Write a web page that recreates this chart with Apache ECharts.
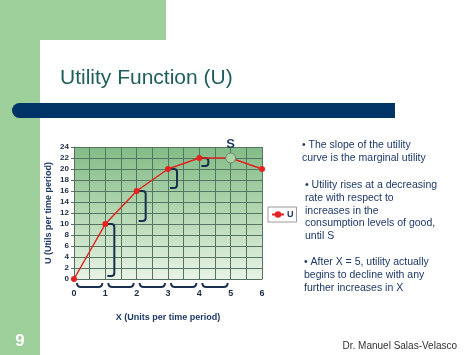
<!DOCTYPE html>
<html lang="en">
<head>
<meta charset="UTF-8">
<title>Utility Function (U)</title>
<script src="https://cdn.jsdelivr.net/npm/echarts@6/dist/echarts.min.js"></script>
<style>
  html, body { margin: 0; padding: 0; background: #fff; }
  #main { width: 474px; height: 355px; }
</style>
</head>
<body>
<div id="main"></div>
<script>
// data
var xUnits = [0, 1, 2, 3, 4, 5, 6];
var utility = [0, 10, 16, 20, 22, 22, 20];
var satiationX = 5;            // point S
var yTicks = { min: 0, max: 24, step: 2 };
var xTicks = { min: 0, max: 6, step: 1 };

var bullets = [
    '• The slope of the utility\ncurve is the marginal utility',
    '• Utility rises at a decreasing\nrate with respect to\nincreases in the\nconsumption levels of good,\nuntil S',
    '• After X = 5, utility actually\nbegins to decline with any\nfurther increases in X'
];

var navy = '#1c3867';
var font = '"Liberation Sans", Arial, sans-serif';
var narrow = '"Liberation Sans Narrow", "Liberation Sans", Arial, sans-serif';

// points for the line; S is drawn as a hollow circle
var linePoints = xUnits.map(function (x, i) {
    var p = { value: [x, utility[i]] };
    if (x === satiationX) {
        p.symbolSize = 10;
        p.itemStyle = { color: '#a9d3a3', borderColor: '#6f7f74', borderWidth: 1 };
        p.label = { show: true, formatter: 'S', position: 'top', distance: 2,
            fontSize: 13, fontWeight: 'bold', color: '#1f3a5a', fontFamily: font };
    }
    return p;
});

// vertical braces: rise from previous point to this one (until S)
var riseBraces = [];
// horizontal braces: one unit step in X
var stepBraces = [];
for (var i = 1; i < xUnits.length && xUnits[i] <= satiationX; i++) {
    if (utility[i] > utility[i - 1]) riseBraces.push([xUnits[i], utility[i - 1], utility[i]]);
    stepBraces.push([xUnits[i - 1], xUnits[i]]);
}

var braceStyle = { stroke: '#1a2f4e', lineWidth: 2, fill: null };

var myChart = echarts.init(document.getElementById('main'));
var option = {
    animation: false,
    grid: {
        left: 74, right: 212, top: 147, bottom: 76,
        show: true, borderWidth: 0,
        backgroundColor: new echarts.graphic.LinearGradient(0, 0, 0, 1, [
            { offset: 0, color: '#82bc87' },
            { offset: 0.5, color: '#b4d7b2' },
            { offset: 1, color: '#e8f3e5' }
        ])
    },
    legend: {
        left: 268, top: 207,
        padding: [3, 3, 3, 3],
        borderColor: '#9a9a9a', borderWidth: 1,
        itemWidth: 12, itemHeight: 8, itemGap: 2,
        textStyle: { fontSize: 9, fontWeight: 'bold', color: navy, fontFamily: narrow, padding: [0, 0, 0, -2] },
        data: ['U']
    },
    xAxis: {
        type: 'value', min: xTicks.min, max: xTicks.max, interval: xTicks.step,
        name: 'X (Units per time period)', nameLocation: 'middle', nameGap: 34,
        nameTextStyle: { fontSize: 9, fontWeight: 'bold', color: navy, fontFamily: narrow },
        axisLine: { show: true, lineStyle: { color: '#55705f' } },
        axisTick: { show: false },
        axisLabel: { margin: 10, fontSize: 9, fontWeight: 'bold', color: '#1a2a40', fontFamily: narrow },
        splitLine: { show: true, lineStyle: { color: '#557563', width: 1 } },
        minorTick: { show: false, splitNumber: 2 },
        minorSplitLine: { show: true, lineStyle: { color: '#557563', width: 1 } }
    },
    yAxis: {
        type: 'value', min: yTicks.min, max: yTicks.max, interval: yTicks.step,
        name: 'U (Utils per time period)', nameLocation: 'middle', nameGap: 21,
        nameTextStyle: { fontSize: 9, fontWeight: 'bold', color: navy, fontFamily: narrow },
        axisLine: { show: true, lineStyle: { color: '#55705f' } },
        axisTick: { show: true, length: 3, lineStyle: { color: '#55705f' } },
        axisLabel: { margin: 5, fontSize: 8, fontWeight: 'bold', color: '#1a2a40', fontFamily: narrow },
        splitLine: { show: true, lineStyle: { color: '#557563', width: 1 } }
    },
    series: [
        {
            name: 'U', type: 'line', data: linePoints,
            symbol: 'circle', symbolSize: 6,
            lineStyle: { color: '#e2231f', width: 1.5 },
            itemStyle: { color: '#e2231f' },
            z: 5
        },
        {
            type: 'custom', data: riseBraces, clip: false, silent: true, z: 4,
            renderItem: function (params, api) {
                var top = api.coord([api.value(0), api.value(2)]);
                var low = api.coord([api.value(0), api.value(1)]);
                var x = top[0] + 9, y1 = top[1], y2 = low[1] - 3;
                var d = 'M' + (top[0] + 2) + ' ' + y1 +
                    ' L' + (x - 3) + ' ' + y1 +
                    ' Q' + x + ' ' + y1 + ' ' + x + ' ' + (y1 + 3) +
                    ' L' + x + ' ' + (y2 - 3) +
                    ' Q' + x + ' ' + y2 + ' ' + (x - 3) + ' ' + y2 +
                    ' L' + (x - 7) + ' ' + y2;
                return { type: 'path', shape: { pathData: d }, style: braceStyle };
            }
        },
        {
            type: 'custom', data: stepBraces, clip: false, silent: true, z: 4,
            renderItem: function (params, api) {
                var a = api.coord([api.value(0), yTicks.min]);
                var b = api.coord([api.value(1), yTicks.min]);
                var y = a[1] + 8, x1 = a[0] + 3, x2 = b[0] - 3;
                var d = 'M' + x1 + ' ' + (y - 4) +
                    ' Q' + x1 + ' ' + y + ' ' + (x1 + 4) + ' ' + y +
                    ' L' + (x2 - 4) + ' ' + y +
                    ' Q' + x2 + ' ' + y + ' ' + x2 + ' ' + (y - 4);
                return { type: 'path', shape: { pathData: d }, style: braceStyle };
            }
        }
    ],
    graphic: [
        { type: 'rect', z: -10, shape: { x: 0, y: 0, width: 166, height: 40 }, style: { fill: '#9ccf9a' } },
        { type: 'rect', z: -10, shape: { x: 0, y: 0, width: 40, height: 355 }, style: { fill: '#9ccf9a' } },
        { type: 'rect', z: -9, shape: { x: 40, y: 40, width: 434, height: 315, r: [12, 0, 0, 0] }, style: { fill: '#ffffff' } },
        { type: 'rect', z: -8, shape: { x: 12, y: 103, width: 383, height: 15, r: [7.5, 0, 0, 7.5] }, style: { fill: '#003366' } },
        { type: 'text', z: -7, x: 60, y: 89, style: { text: 'Utility Function (U)', fontSize: 21, fontFamily: font, fill: '#1e5e5c', textVerticalAlign: 'bottom' } },
        { type: 'text', x: 20, y: 341, style: { text: '9', fontSize: 17, fontWeight: 'bold', fontFamily: font, fill: '#ffffff', textAlign: 'center', textVerticalAlign: 'middle' } },
        { type: 'text', x: 457, y: 346, style: { text: 'Dr. Manuel Salas-Velasco', fontSize: 10, fontFamily: font, fill: '#333333', textAlign: 'right', textVerticalAlign: 'middle' } },
        { type: 'text', x: 302, y: 139, style: { text: bullets[0], fontSize: 10.5, lineHeight: 12.5, fontFamily: font, fill: navy } },
        { type: 'text', x: 305, y: 179, style: { text: bullets[1], fontSize: 10.5, lineHeight: 12.7, fontFamily: font, fill: navy } },
        { type: 'text', x: 304, y: 256, style: { text: bullets[2], fontSize: 10.5, lineHeight: 12.7, fontFamily: font, fill: navy } }
    ]
};
myChart.setOption(option);
</script>
</body>
</html>
